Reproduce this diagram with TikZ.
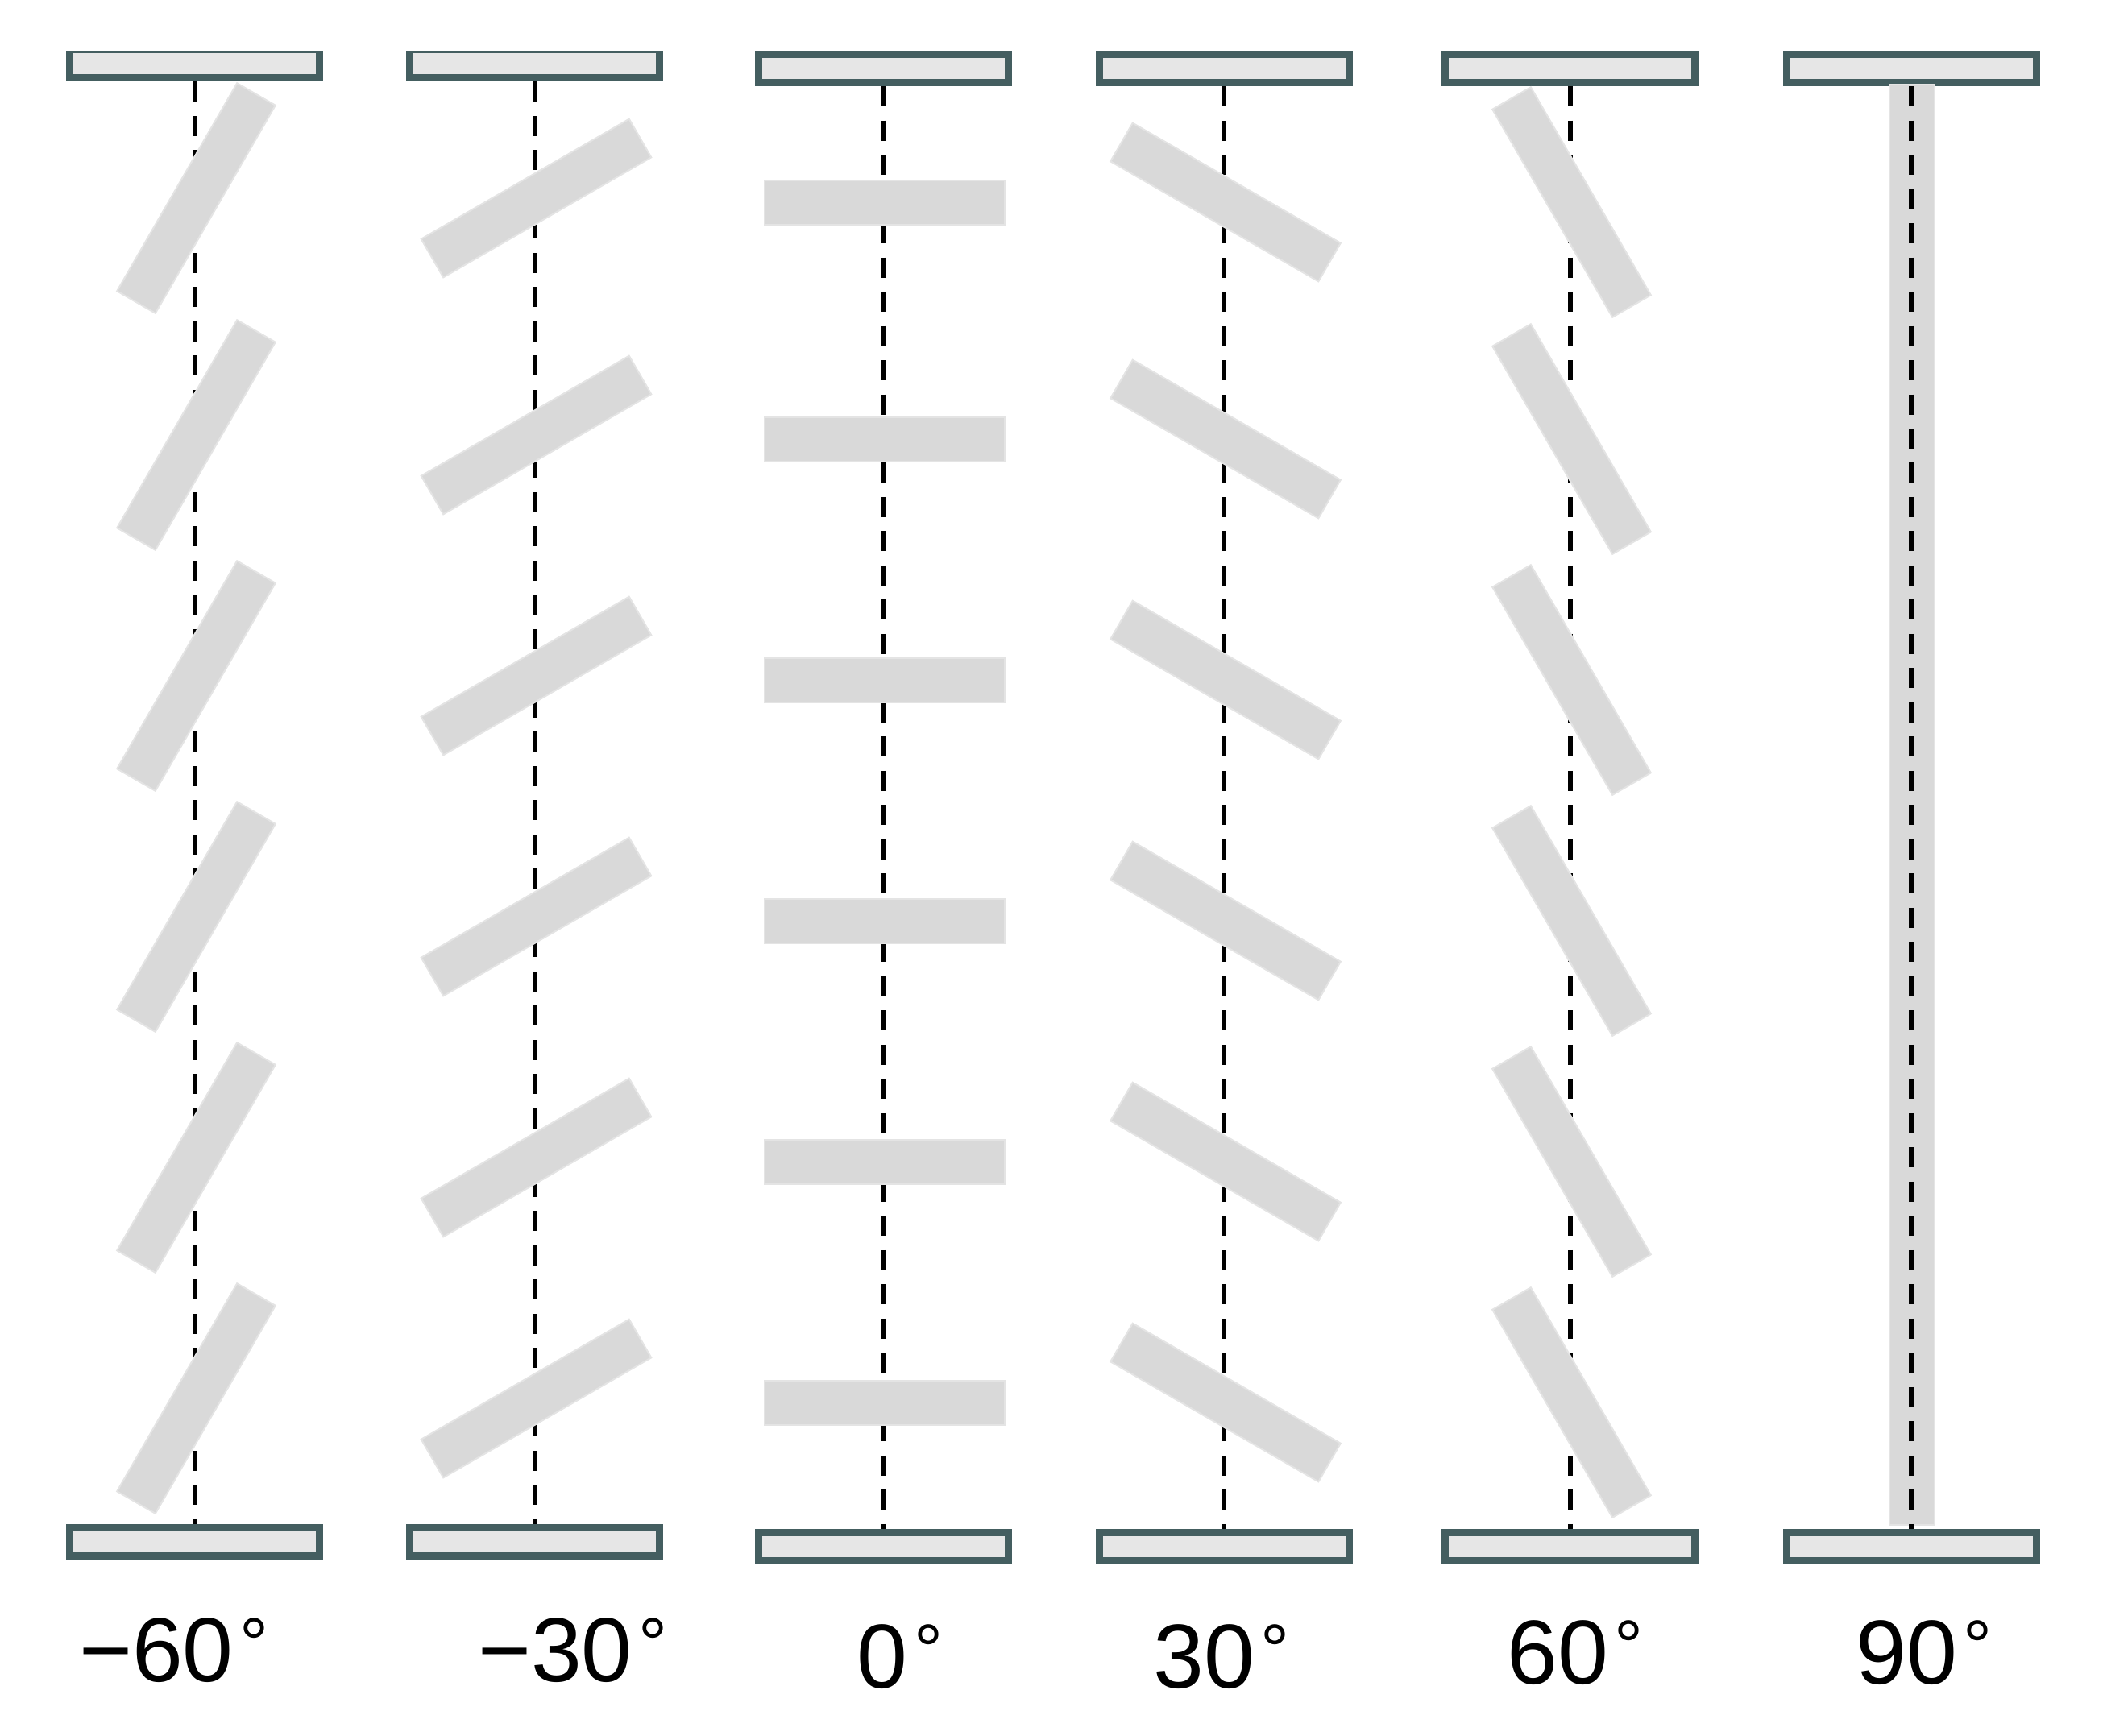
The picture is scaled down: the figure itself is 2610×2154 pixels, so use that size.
\documentclass[tikz,border=0pt]{standalone}
\usepackage{fontspec}
\setmainfont{Liberation Sans}
\definecolor{platedge}{RGB}{68,94,96}
\definecolor{platefill}{RGB}{230,230,230}
\definecolor{rodfill}{RGB}{217,217,217}
\definecolor{rodedge}{RGB}{228,228,228}
\newcommand\mydeg{\hspace{0.8pt}\raisebox{1.6pt}{\fontsize{9}{9}\selectfont °}}
\begin{document}
\begin{tikzpicture}[x=0.1pt,y=-0.1pt,
  plate/.style={draw=platedge, fill=platefill, line width=0.9pt, minimum width=31pt, minimum height=3.5pt, inner sep=0pt},
  rod/.style={fill=rodfill, draw=rodedge, line width=0.2pt, minimum width=29.8pt, minimum height=5.5pt, inner sep=0pt},
  axisline/.style={black, line width=0.6pt, dash pattern=on 2.5pt off 1.75pt},
  lab/.style={anchor=base, inner sep=0pt, font=\fontsize{11.3}{11.3}\selectfont}]
\useasboundingbox (0,0) rectangle (2610,2154);

% top plates, columns 1-2 (partly cut at the top)
\begin{scope}
  \clip (0,63) rectangle (2610,300);
  \node[plate] (t1) at (241.5,79) {};
  \node[plate] (t2) at (663.5,79) {};
\end{scope}
\node[plate] (t3) at (1096,85) {};
\node[plate] (t4) at (1519,85) {};
\node[plate] (t5) at (1948.5,85) {};
\node[plate] (t6) at (2372,85) {};

% bottom plates
\node[plate] (b1) at (241.5,1913.5) {};
\node[plate] (b2) at (663.5,1913.5) {};
\node[plate] (b3) at (1096,1919.5) {};
\node[plate] (b4) at (1519,1919.5) {};
\node[plate] (b5) at (1948.5,1919.5) {};
\node[plate] (b6) at (2372,1919.5) {};

% columns with tilted rods
\foreach \i/\x/\a/\dy in {1/241.5/60/0, 2/663.5/30/0, 3/1096/0/5, 4/1519/-30/5, 5/1948.5/-60/5} {
  \draw[axisline] (t\i.south) -- (b\i.north);
  \foreach \k/\yy in {1/246,2/540,3/839,4/1138,5/1437,6/1736}
    \node[rod, rotate=\a] (r\i-\k) at (\x+2,\yy+\dy) {};
}

% 90 degree column
\node[rod, minimum width=5.6pt, minimum height=178.8pt] (r6) at (2373,999) {};
\draw[axisline] (t6.south) -- (b6.north);

% labels
\node[lab] (l1) at (216,2087) {−60\mydeg};
\node[lab] (l2) at (711,2087) {−30\mydeg};
\node[lab] (l3) at (1117,2095) {0\mydeg};
\node[lab] (l4) at (1516,2095) {30\mydeg};
\node[lab] (l5) at (1955,2090) {60\mydeg};
\node[lab] (l6) at (2388,2090) {90\mydeg};
\end{tikzpicture}
\end{document}
